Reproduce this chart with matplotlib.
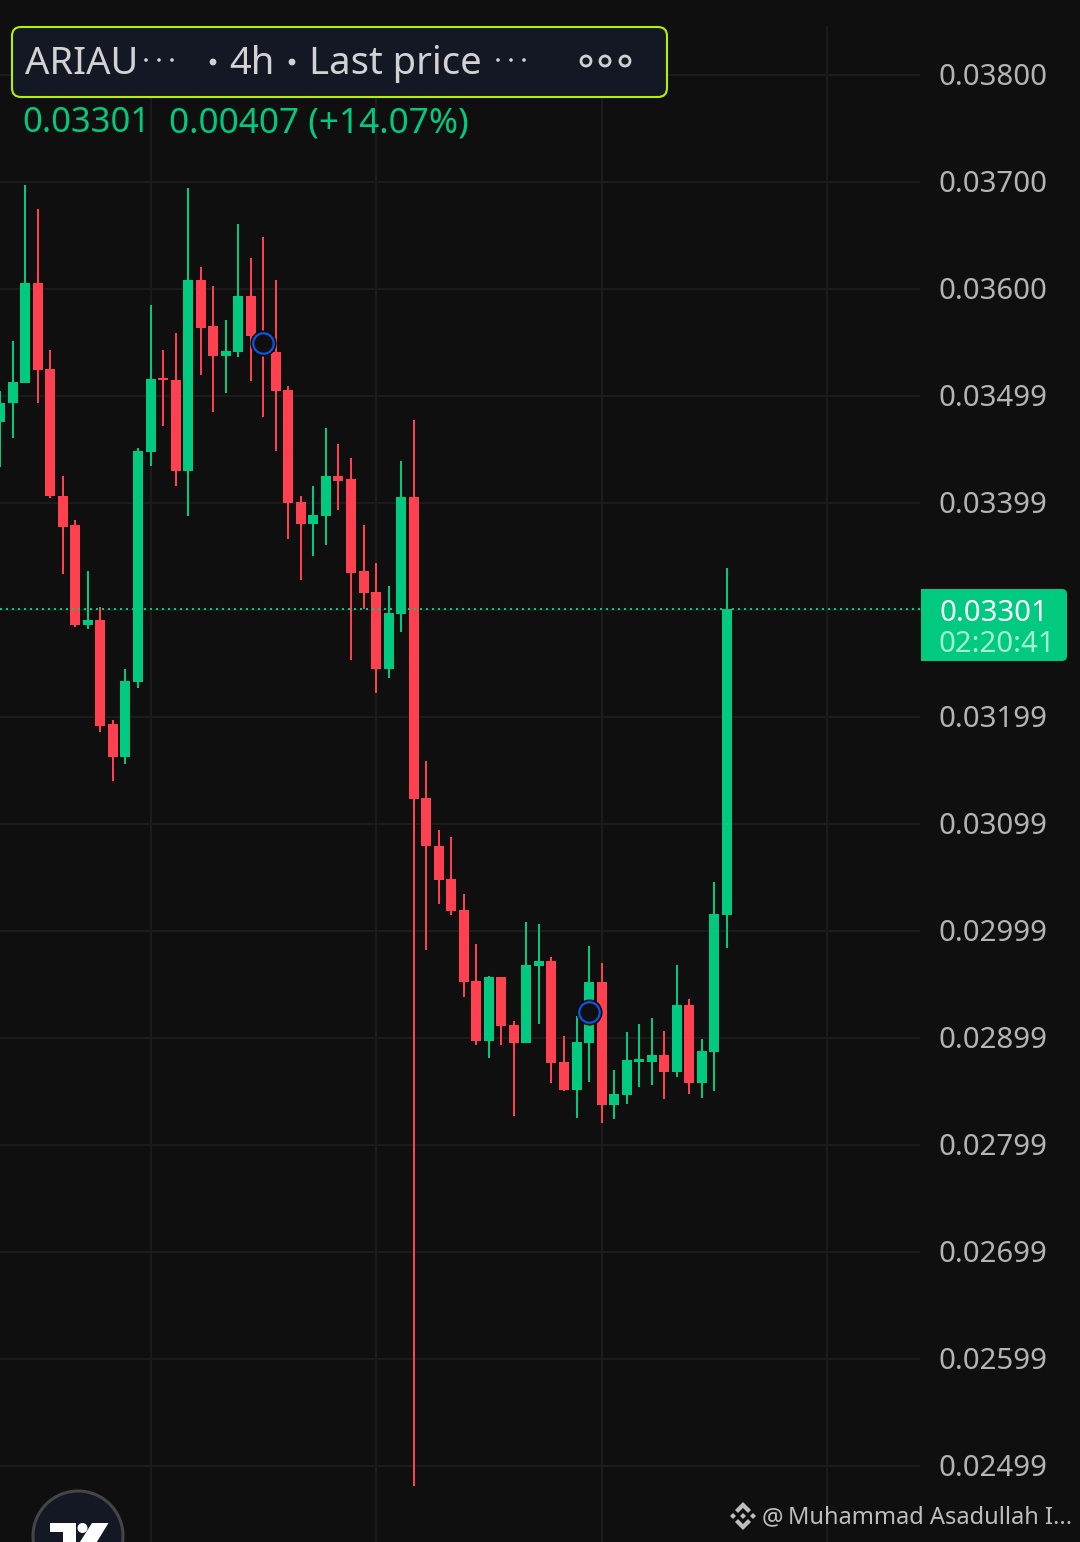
import matplotlib
matplotlib.use("Agg")
import matplotlib.pyplot as plt
from matplotlib.patches import FancyBboxPatch, Circle, Polygon, Rectangle
from matplotlib.transforms import ScaledTranslation

plt.rcParams['font.family'] = ['Noto Sans', 'DejaVu Sans']

opens = [0.03476,0.03493,0.03512,0.03606,0.03525,0.03407,0.03379,0.03286,0.03291,0.03193,
         0.03163,0.03233,0.03448,0.03517,0.03515,0.03430,0.03608,0.03565,0.03537,0.03541,
         0.03593,0.03556,0.03541,0.03506,0.03401,0.03380,0.03388,0.03425,0.03422,0.03336,
         0.03317,0.03245,0.03296,0.03406,0.03124,0.03079,0.03049,0.03020,0.02953,0.02897,
         0.02957,0.02912,0.02895,0.02967,0.02972,0.02878,0.02851,0.02895,0.02952,0.02837,
         0.02847,0.02878,0.02878,0.02884,0.02868,0.02931,0.02858,0.02887,0.03015]
closes = [0.03493,0.03513,0.03606,0.03524,0.03407,0.03378,0.03286,0.03291,0.03192,0.03163,
          0.03234,0.03449,0.03516,0.03515,0.03430,0.03608,0.03564,0.03537,0.03542,0.03593,
          0.03556,0.03541,0.03505,0.03400,0.03380,0.03389,0.03425,0.03421,0.03335,0.03316,
          0.03245,0.03297,0.03406,0.03123,0.03079,0.03048,0.03019,0.02952,0.02897,0.02957,
          0.02911,0.02895,0.02968,0.02972,0.02877,0.02851,0.02896,0.02952,0.02837,0.02848,
          0.02879,0.02880,0.02884,0.02868,0.02931,0.02858,0.02888,0.03016,0.03301]
highs = [0.03505,0.03551,0.03697,0.03675,0.03543,0.03425,0.03384,0.03336,0.03303,0.03197,
         0.03245,0.03451,0.03585,0.03543,0.03559,0.03694,0.03621,0.03603,0.03571,0.03661,
         0.03629,0.03649,0.03608,0.03509,0.03407,0.03416,0.03470,0.03455,0.03442,0.03379,
         0.03344,0.03322,0.03439,0.03478,0.03159,0.03094,0.03088,0.03035,0.02988,0.02958,
         0.02957,0.02916,0.03008,0.03007,0.02976,0.02902,0.02921,0.02986,0.02970,0.02870,
         0.02906,0.02913,0.02919,0.02907,0.02968,0.02936,0.02899,0.03046,0.03339]
lows = [0.03434,0.03461,0.03512,0.03493,0.03405,0.03334,0.03284,0.03282,0.03186,0.03140,
        0.03156,0.03227,0.03435,0.03472,0.03416,0.03388,0.03520,0.03485,0.03503,0.03536,
        0.03514,0.03480,0.03449,0.03366,0.03328,0.03350,0.03361,0.03393,0.03253,0.03301,
        0.03222,0.03236,0.03279,0.02481,0.02982,0.03025,0.03015,0.02938,0.02893,0.02881,
        0.02893,0.02827,0.02895,0.02913,0.02858,0.02850,0.02825,0.02859,0.02821,0.02824,
        0.02838,0.02854,0.02856,0.02843,0.02864,0.02848,0.02844,0.02850,0.02984]

tick_values = [0.038,0.037,0.036,0.035,0.034,0.033,0.032,0.031,0.030,0.029,0.028,0.027,0.026,0.025]
tick_labels = ['0.03800','0.03700','0.03600','0.03499','0.03399','','0.03199','0.03099',
               '0.02999','0.02899','0.02799','0.02699','0.02599','0.02499']
time_grid = [12, 30, 48, 66]
last_price = 0.03301
marker_candles = [21, 47]
marker_prices = [0.035495, 0.029243]

BG = '#0f0f0f'
GRID = '#1b1b1b'
GREEN = '#00c980'
RED = '#ff4050'
LABEL = '#b4b4b4'

W, H = 1080, 1542
PX = 12.53
OFF = 0.15
fig = plt.figure(figsize=(W/100, H/100), dpi=100, facecolor=BG)
ax = fig.add_axes([0, 0, 920/W, 1], facecolor=BG)
ax.set_xlim(-OFF/PX, (920-OFF)/PX)
ax.set_ylim(0.0242897, 0.0387009)

ax.set_xticks(time_grid)
ax.set_yticks(tick_values)
ax.set_yticklabels(tick_labels)
ax.yaxis.tick_right()
ax.tick_params(axis='y', length=0, pad=13.4, labelsize=21.15, labelcolor=LABEL)
nudge = ScaledTranslation(0, 1/100, fig.dpi_scale_trans)
for t in ax.yaxis.get_major_ticks():
    t.label2.set_transform(t.label2.get_transform() + nudge)
ax.tick_params(axis='x', length=0, labelbottom=False)
ax.grid(True, color=GRID, lw=1.44, zorder=0)
ax.set_axisbelow(True)
for s in ax.spines.values():
    s.set_visible(False)

idx = list(range(len(opens)))
cols = [GREEN if c >= o else RED for o, c in zip(opens, closes)]
ax.bar(idx, [h-l for h, l in zip(highs, lows)], bottom=lows, width=2/PX, color=cols, zorder=2, lw=0)
ax.bar(idx, [abs(c-o) for o, c in zip(opens, closes)],
       bottom=[min(o, c) for o, c in zip(opens, closes)],
       width=10/PX, color=cols, zorder=3, lw=0)

ax.axhline(last_price, color=GREEN, lw=1.44, ls=(0, (1, 2)), zorder=4)

mx = [idx[i] for i in marker_candles]
ax.scatter(mx, marker_prices, s=(26*0.72)**2, color='#0a0a0a', lw=0, zorder=5)
ax.scatter(mx, marker_prices, s=(20.5*0.72)**2, facecolor=BG, edgecolor='#0a55e6', lw=1.6, zorder=6)

# Overlay in pixel coordinates for interface furniture
ui = fig.add_axes([0, 0, 1, 1], facecolor='none')
ui.set_xlim(0, W)
ui.set_ylim(H, 0)
ui.axis('off')

# Chart pane begins below the top margin
ui.add_patch(Rectangle((0, 0), 920, 26, fc=BG, ec='none'))

# Title box
ui.add_patch(FancyBboxPatch((12, 27), 655, 70, boxstyle='round,pad=0,rounding_size=9',
                            fc='#131824', ec='#b4f000', lw=1.5))
TXT = '#d2d2d2'
ts = 27.5
ui.text(25, 59.5, 'ARIAU', color=TXT, fontsize=ts, va='center_baseline', ha='left')
ui.text(229, 59.5, '4h', color=TXT, fontsize=ts, va='center_baseline', ha='left')
ui.text(309, 59.5, 'Last price', color=TXT, fontsize=ts, va='center_baseline', ha='left')
for cx in [146, 159, 172, 213, 292, 498, 511, 524]:
    r = 3.4 if cx in (213, 292) else 1.8
    ui.add_patch(Circle((cx, 60 if r < 3 else 62), r, fc=TXT, ec='none'))
for cx in [586, 605, 625]:
    ui.add_patch(Circle((cx, 61), 5, fc='none', ec=TXT, lw=2))

ui.text(22, 119, '0.03301', color=GREEN, fontsize=24.9, va='center_baseline', ha='left')
ui.text(169, 119, '0.00407 (+14.07%)', color=GREEN, fontsize=25.3, va='center_baseline', ha='left')

# Last-price tag
ui.add_patch(FancyBboxPatch((921, 589), 146, 72, boxstyle='round,pad=0,rounding_size=5', fc=GREEN, ec='none'))
ui.add_patch(Rectangle((921, 589), 10, 72, fc=GREEN, ec='none'))
ui.text(994, 610, '0.03301', color='white', fontsize=21.15, ha='center', va='center_baseline')
ui.text(997, 641, '02:20:41', color='#a6f0d2', fontsize=21.15, ha='center', va='center_baseline')

# Watermark logo
ui.add_patch(Circle((78, 1536), 45, fc='#131824', ec='#454545', lw=2.2))
ui.add_patch(Polygon([(50, 1523), (76, 1523), (76, 1545), (63, 1545), (63, 1532), (50, 1532)], fc='white', ec='none'))
ui.add_patch(Circle((82.5, 1528), 5, fc='white', ec='none'))
ui.add_patch(Polygon([(92, 1523), (108.5, 1523), (95, 1545), (78, 1545)], fc='white', ec='none'))

# Attribution
LG = '#bdbdbd'
cx, cy = 743, 1516
ui.add_patch(Polygon([(cx, cy-14), (cx+8, cy-6), (cx+5, cy-3), (cx, cy-8), (cx-5, cy-3), (cx-8, cy-6)], fc=LG, ec='none'))
ui.add_patch(Polygon([(cx, cy+14), (cx+8, cy+6), (cx+5, cy+3), (cx, cy+8), (cx-5, cy+3), (cx-8, cy+6)], fc=LG, ec='none'))
ui.add_patch(Polygon([(cx, cy-3), (cx+3, cy), (cx, cy+3), (cx-3, cy)], fc=LG, ec='none'))
ui.add_patch(Polygon([(cx-10, cy-3), (cx-7, cy), (cx-10, cy+3), (cx-13, cy)], fc=LG, ec='none'))
ui.add_patch(Polygon([(cx+10, cy-3), (cx+13, cy), (cx+10, cy+3), (cx+7, cy)], fc=LG, ec='none'))
ui.text(762, 1515, '@', color=LG, fontsize=17.3, ha='left', va='center_baseline')
ui.text(788, 1515, 'Muhammad Asadullah I...', color=LG, fontsize=17.0, ha='left', va='center_baseline')

fig.savefig('out.png', dpi=100, facecolor=BG)
